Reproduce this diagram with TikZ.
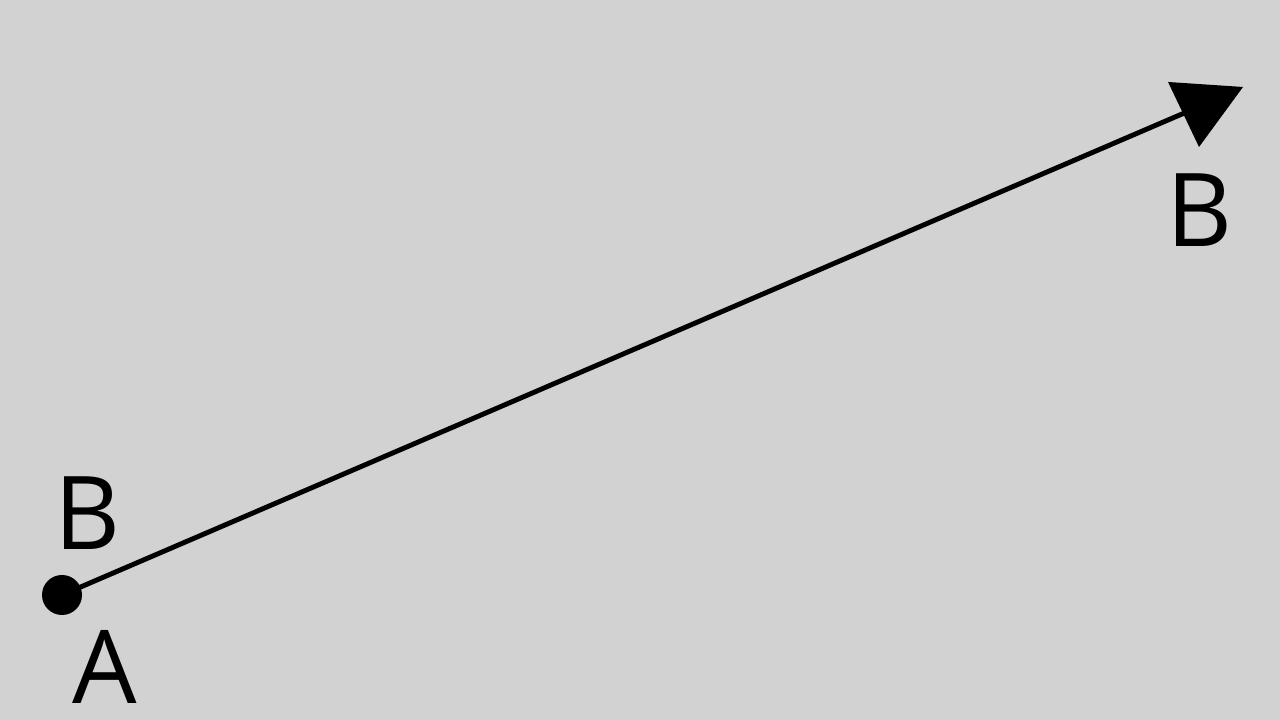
\documentclass[tikz,border=0pt]{standalone}
\usepackage{fontspec}
\setmainfont{Open Sans}
\usetikzlibrary{backgrounds}
\definecolor{bggray}{RGB}{210,210,210}

\begin{document}
\begin{tikzpicture}[
    label text/.style={inner sep=0pt, font=\fontsize{29}{35}\selectfont},
    vector line/.style={line width=1.4pt, black},
    ]
    \fill[bggray] (0,0) rectangle (12.8,7.2);
    % start point and head of the vector
    \node[circle, fill=black, minimum size=0.4cm, inner sep=0pt] (dotA) at (0.62,1.25) {};
    \coordinate (headB) at (12.03,6.15);
    \draw[vector line] (dotA.center) -- (headB);
    \fill (11.68,6.38) -- (12.43,6.33) -- (11.99,5.73) -- cycle;
    % labels
    \node[label text] (labB1) at (0.88,2.07) {B};
    \node[label text] (labA) at (1.045,0.53) {A};
    \node[label text] (labB2) at (11.99,5.10) {B};
\end{tikzpicture}
\end{document}
